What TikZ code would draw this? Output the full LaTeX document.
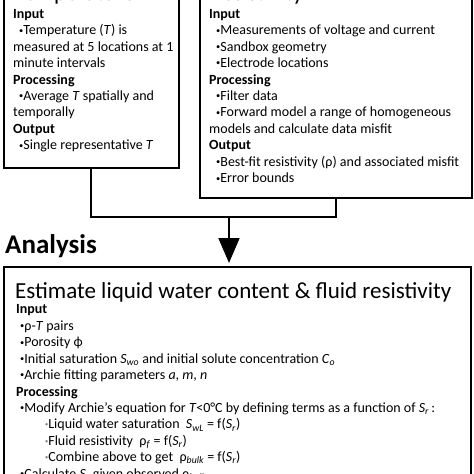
\documentclass[tikz,border=0pt]{standalone}
\usepackage{fontspec}
\setmainfont{Carlito}
\usetikzlibrary{positioning, arrows.meta}
\tikzstyle{panel} = [draw, line width=1.6pt, rectangle, anchor=north west, inner sep=0pt]
\tikzstyle{body} = [anchor=north west, align=left, inner sep=0pt, font=\fontsize{14}{16.45}\selectfont]
\tikzstyle{arrow} = [line width=1.8pt, -{Triangle[length=25pt, width=21pt]}]
\newcommand{\bul}{\raisebox{0.25ex}{\scalebox{0.6}{\textbullet}}}
\newcommand{\sbul}{\raisebox{0.3ex}{\scalebox{0.45}{\color{black!55}\textbullet}}}
\newcommand{\vr}[2]{\textit{#1}\textsubscript{\textit{#2}}}

\begin{document}
\begin{tikzpicture}[x=1pt, y=-1pt]
      \clip (0,0) rectangle (474,474);
      \useasboundingbox (0,0) rectangle (474,474);

      % Boxes
      \node[panel, minimum width=175pt, minimum height=207pt] (tempbox) at (3,-40) {};
      \node[panel, minimum width=272pt, minimum height=237pt] (resbox) at (199,-40) {};
      \node[panel, minimum width=467pt, minimum height=254pt] (anabox) at (3,266) {};

      % Titles
      \node[anchor=base west, inner sep=0pt, font=\fontsize{23}{26}\selectfont] (temptitle) at (15,0) {Temperature};
      \node[anchor=base west, inner sep=0pt, font=\fontsize{23}{26}\selectfont] (restitle) at (210,0) {Resistivity};
      \node[anchor=base west, inner sep=0pt, font=\fontsize{27}{30}\bfseries] (analysis) at (5,253) {Analysis};
      \node[anchor=base west, inner sep=0pt, font=\fontsize{23}{26}\selectfont] (anatitle) at (15,298.5) {Estimate liquid water content \& fluid resistivity};

      % Box contents
      \node[body] (temptext) at (13,9) {
        \textbf{Input}\\
        \hspace*{6pt}\bul Temperature (\textit{T}) is\\
        measured at 5 locations at 1\\
        minute intervals\\
        \textbf{Processing}\\
        \hspace*{6pt}\bul Average \textit{T} spatially and\\
        temporally\\
        \textbf{Output}\\
        \hspace*{6pt}\bul Single representative \textit{T}
      };

      \node[body] (restext) at (209,9) {
        \textbf{Input}\\
        \hspace*{7pt}\bul Measurements of voltage and current\\
        \hspace*{7pt}\bul Sandbox geometry\\
        \hspace*{7pt}\bul Electrode locations\\
        \textbf{Processing}\\
        \hspace*{7pt}\bul Filter data\\
        \hspace*{7pt}\bul Forward model a range of homogeneous\\
        models and calculate data misfit\\
        \textbf{Output}\\
        \hspace*{7pt}\bul Best-fit resistivity (ρ) and associated misfit\\
        \hspace*{7pt}\bul Error bounds
      };

      \node[body] (anatext) at (16,304.5) {
        \textbf{Input}\\
        \hspace*{4pt}\bul ρ-\textit{T} pairs\\
        \hspace*{4pt}\bul Porosity ϕ\\
        \hspace*{4pt}\bul Initial saturation \vr{S}{wo} and initial solute concentration \vr{C}{o}\\
        \hspace*{4pt}\bul Archie fitting parameters \textit{a}, \textit{m}, \textit{n}\\
        \textbf{Processing}\\
        \hspace*{4pt}\bul Modify Archie's equation for \textit{T}<0°C by defining terms as a function of \vr{S}{r}\,:\\
        \hspace*{29pt}\sbul Liquid water saturation\ \ \vr{S}{wL} = f(\vr{S}{r})\\
        \hspace*{29pt}\sbul Fluid resistivity\ \ ρ\textsubscript{\textit{f}} = f(\vr{S}{r})\\
        \hspace*{29pt}\sbul Combine above to get\ \ ρ\textsubscript{\textit{bulk}} = f(\vr{S}{r})\\
        \hspace*{4pt}\bul Calculate \vr{S}{r} given observed ρ\textsubscript{\textit{bulk}}
      };

      % Connections
      \coordinate (split) at (229,217);
      \coordinate (land) at (229,263);
      \draw[line width=1.8pt] (tempbox.south) |- (split) -| (resbox.south);
      \draw[arrow] (split) -- (land);
    \end{tikzpicture}
\end{document}
